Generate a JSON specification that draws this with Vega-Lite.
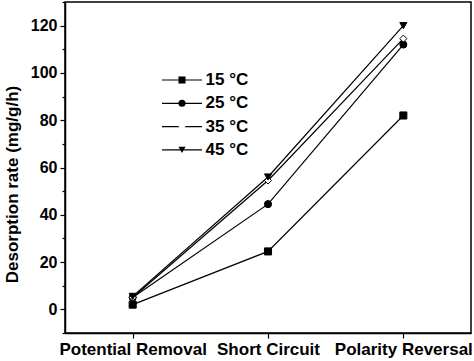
{
  "$schema": "https://vega.github.io/schema/vega-lite/v6.json",
  "width": 406,
  "height": 331,
  "autosize": {"type": "none"},
  "padding": {"left": 65, "top": 2, "right": 3, "bottom": 28},
  "background": "white",
  "config": {
    "view": {"stroke": "black", "strokeWidth": 1.5},
    "font": "Liberation Sans",
    "axis": {"labelFont": "Liberation Sans", "titleFont": "Liberation Sans", "labelFontWeight": "bold", "titleFontWeight": "bold", "labelColor": "black", "titleColor": "black", "domainColor": "black", "tickColor": "black", "grid": false, "labelFontSize": 16, "domainWidth": 1.5, "tickWidth": 1.2}
  },
  "data": {
    "values": [
      {"condition": "Potential Removal", "temp": "15 °C", "rate": 2},
      {"condition": "Short Circuit", "temp": "15 °C", "rate": 24.5},
      {"condition": "Polarity Reversal", "temp": "15 °C", "rate": 82},
      {"condition": "Potential Removal", "temp": "25 °C", "rate": 5},
      {"condition": "Short Circuit", "temp": "25 °C", "rate": 44.5},
      {"condition": "Polarity Reversal", "temp": "25 °C", "rate": 112},
      {"condition": "Potential Removal", "temp": "35 °C", "rate": 5},
      {"condition": "Short Circuit", "temp": "35 °C", "rate": 54.5},
      {"condition": "Polarity Reversal", "temp": "35 °C", "rate": 114.5},
      {"condition": "Potential Removal", "temp": "45 °C", "rate": 5.5},
      {"condition": "Short Circuit", "temp": "45 °C", "rate": 56},
      {"condition": "Polarity Reversal", "temp": "45 °C", "rate": 120}
    ]
  },
  "encoding": {
    "x": {
      "field": "condition", "type": "ordinal",
      "sort": ["Potential Removal", "Short Circuit", "Polarity Reversal"],
      "scale": {"type": "point", "padding": 0.5},
      "axis": {"title": null, "labelAngle": 0, "tickSize": 5, "labelPadding": 3, "labelFontSize": 17}
    },
    "y": {
      "field": "rate", "type": "quantitative",
      "scale": {"domain": [-10, 130], "nice": false, "zero": false},
      "axis": {
        "title": "Desorption rate (mg/g/h)", "titleFontSize": 17,
        "values": [-10, 0, 10, 20, 30, 40, 50, 60, 70, 80, 90, 100, 110, 120, 130],
        "labelExpr": "datum.value % 20 === 0 ? datum.label : ''",
        "tickSize": {"expr": "datum.value % 20 === 0 ? 5 : 3"},
        "labelPadding": 3,
        "titleX": -44, "titleY": 182
      }
    }
  },
  "layer": [
    {
      "mark": {"type": "line", "strokeWidth": 1.2},
      "encoding": {
        "color": {
          "field": "temp", "type": "nominal",
          "scale": {"domain": ["15 °C", "25 °C", "35 °C", "45 °C"], "range": ["black", "black", "black", "black"]},
          "legend": {
            "orient": "none", "legendX": 108.5, "legendY": 69.5, "title": null,
            "symbolType": "M-5.66,0H5.66", "symbolSize": 50, "symbolStrokeWidth": 1.2, "symbolStrokeColor": "black",
            "labelFont": "Liberation Sans", "labelFontSize": 17, "labelFontWeight": "bold", "labelOpacity": 0,
            "labelOffset": 15, "rowPadding": 5.3, "padding": 0
          }
        }
      }
    },
    {
      "mark": {"type": "point", "filled": false, "stroke": "black", "strokeWidth": 1, "opacity": 1},
      "encoding": {
        "shape": {
          "field": "temp", "type": "nominal",
          "scale": {"range": ["square", "circle", "diamond", "triangle-down"]},
          "legend": {
            "orient": "none", "legendX": 108.5, "legendY": 69.5, "title": null,
            "labelFont": "Liberation Sans", "labelFontSize": 17, "labelFontWeight": "bold", "labelColor": "black",
            "labelOffset": 15, "rowPadding": 5.3, "padding": 0, "symbolSize": 50,
            "symbolStrokeColor": "black", "symbolStrokeWidth": 1.2,
            "encode": {
              "symbols": {
                "stroke": {"value": "black"},
                "strokeWidth": {"value": 1.2},
                "opacity": {"value": 1}
              }
            }
          }
        },
        "fill": {
          "field": "temp", "type": "nominal",
          "scale": {"range": ["black", "black", "white", "black"]},
          "legend": {
            "orient": "none", "legendX": 108.5, "legendY": 69.5, "title": null,
            "labelFont": "Liberation Sans", "labelFontSize": 17, "labelFontWeight": "bold", "labelColor": "black",
            "labelOffset": 15, "rowPadding": 5.3, "padding": 0, "symbolSize": 50,
            "symbolStrokeColor": "black", "symbolStrokeWidth": 1.2,
            "encode": {
              "symbols": {
                "stroke": {"value": "black"},
                "strokeWidth": {"value": 1.2},
                "opacity": {"value": 1}
              }
            }
          }
        },
        "size": {"value": 50}
      }
    }
  ]
}
